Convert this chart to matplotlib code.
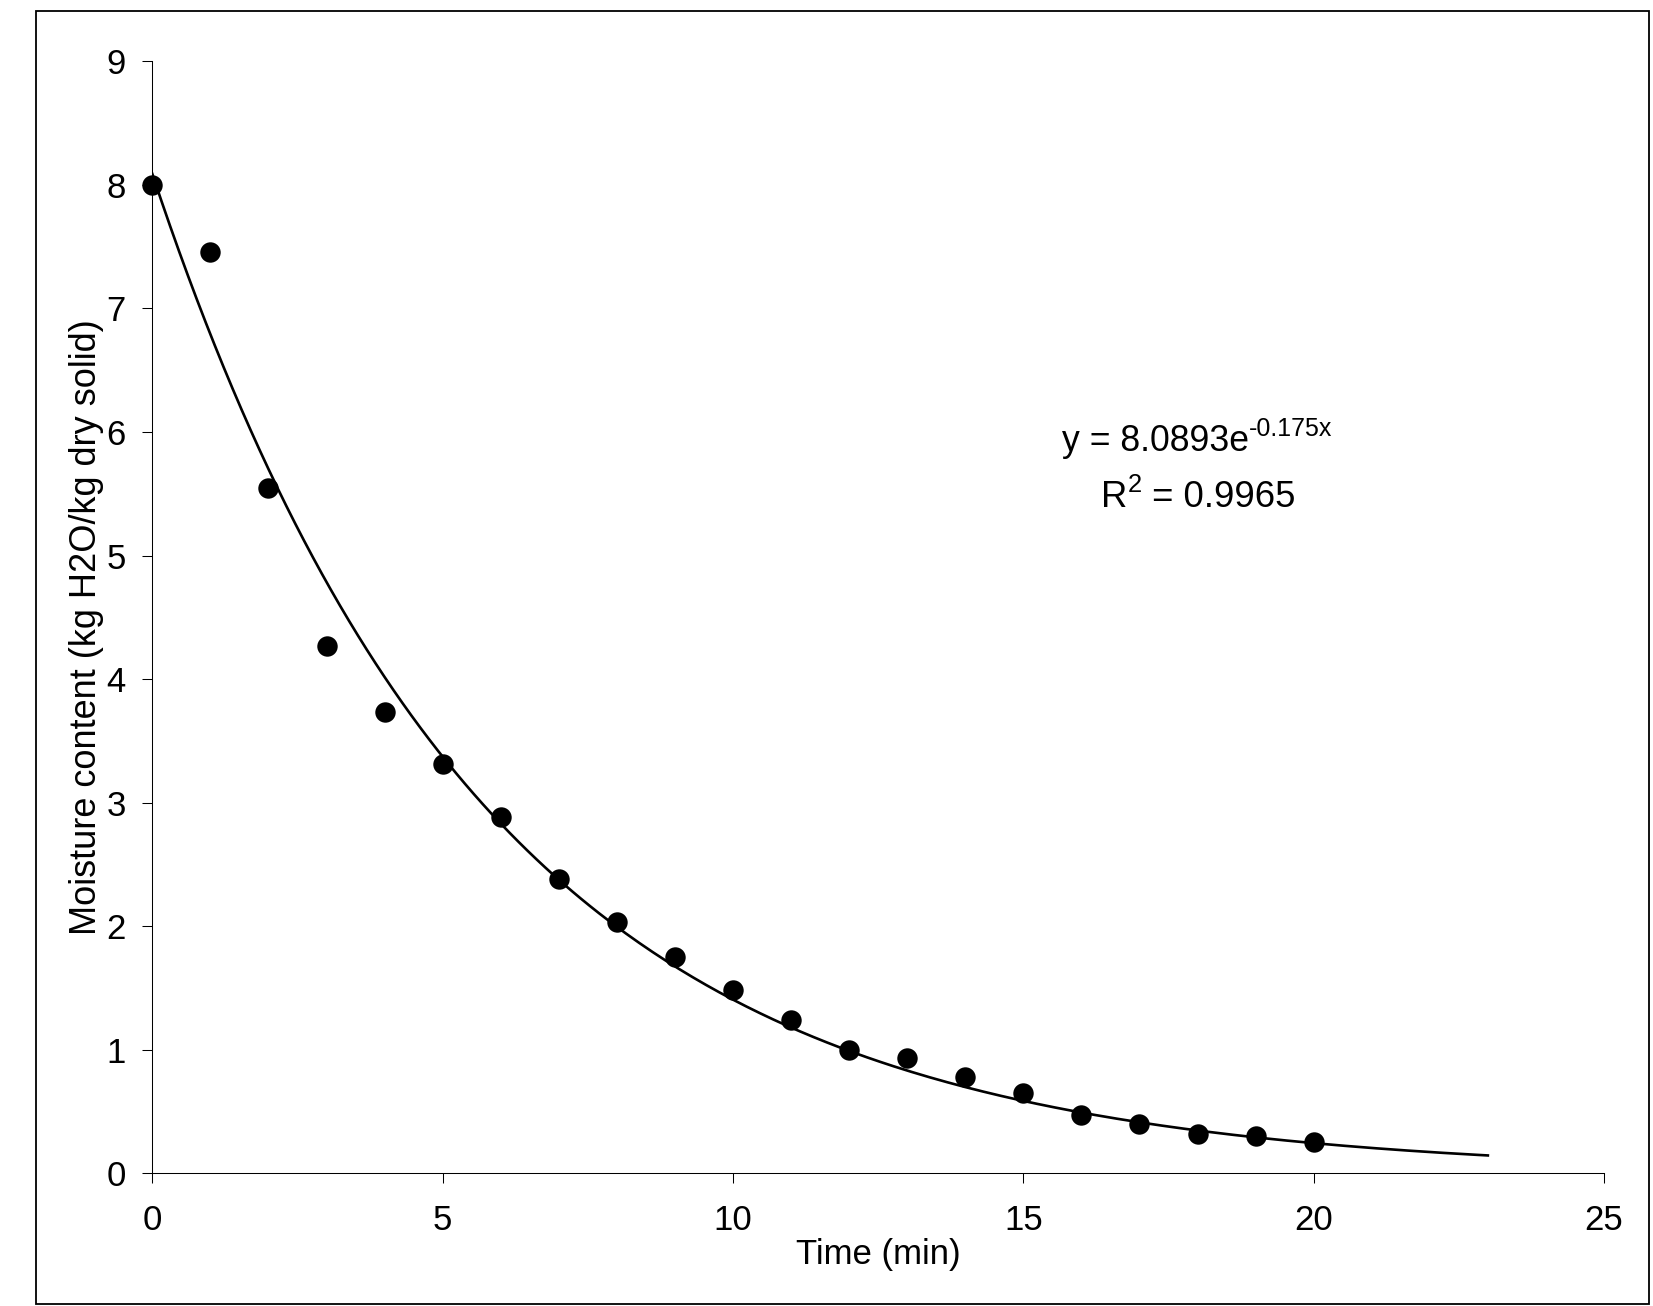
import numpy as np
import matplotlib
matplotlib.use("Agg")
import matplotlib.pyplot as plt
from matplotlib.patches import Rectangle

# ---- data ----
time_min = [0, 1, 2, 3, 4, 5, 6, 7, 8, 9, 10, 11, 12, 13, 14, 15, 16, 17, 18, 19, 20]
moisture = [8.00, 7.46, 5.55, 4.27, 3.73, 3.31, 2.88, 2.38, 2.03, 1.75, 1.48,
            1.24, 1.00, 0.93, 0.78, 0.65, 0.47, 0.40, 0.32, 0.30, 0.25]
fit_a = 8.0893
fit_b = -0.175
fit_x_end = 23
x_ticks = [0, 5, 10, 15, 20, 25]
y_ticks = [0, 1, 2, 3, 4, 5, 6, 7, 8, 9]
x_label = "Time (min)"
y_label = "Moisture content (kg H2O/kg dry solid)"
eq_main, eq_sup = "y = 8.0893e", "-0.175x"
r2_main, r2_sup, r2_rest = "R", "2", " = 0.9965"

plt.rcParams['font.family'] = ['Liberation Sans', 'DejaVu Sans']

W, H = 1653, 1306
fig = plt.figure(figsize=(W / 100, H / 100), dpi=100)
fig.patch.set_facecolor('white')

# outer chart frame
fig.patches.append(Rectangle((36 / W, 1 - 1304 / H), (1649 - 36) / W, (1304 - 11) / H,
                             transform=fig.transFigure, fill=False,
                             edgecolor='black', linewidth=1.3))

ax = fig.add_axes([152.3 / W, 1 - 1173.3 / H, (1604 - 152.3) / W, (1173.3 - 61.3) / H])
ax.set_facecolor('white')

fx = np.linspace(0, fit_x_end, 300)
ax.plot(fx, fit_a * np.exp(fit_b * fx), color='black', linewidth=1.9, zorder=2)
ax.plot(time_min, moisture, linestyle='none', marker='o', markersize=14.7,
        markeredgewidth=0, color='black', zorder=3, clip_on=False)

ax.set_xlim(0, 25)
ax.set_ylim(0, 9)
ax.set_xticks(x_ticks)
ax.set_yticks(y_ticks)
for s in ['top', 'right']:
    ax.spines[s].set_visible(False)
for s in ['left', 'bottom']:
    ax.spines[s].set_linewidth(0.75)
ax.tick_params(axis='both', direction='out', length=7.2, width=0.75, labelsize=25)
ax.tick_params(axis='x', pad=15)
ax.tick_params(axis='y', pad=12)

ax.set_xlabel(x_label, fontsize=25)
ax.xaxis.set_label_coords(0.5, -(1238 - 1173.3) / 1111.7)
ax.set_ylabel(y_label, fontsize=26)
ax.yaxis.set_label_coords(-(152.3 - 104) / 1451.7, (1173.3 - 627) / 1112)

# equation annotation (pixel-placed pieces, centred as a group)
renderer = fig.canvas.get_renderer()


def px(x, y):
    return x / W, 1 - y / H


def place_group(pieces, cx, base_y):
    """pieces: list of (text, fontsize, raise_px)"""
    objs = []
    widths = []
    for txt, fs, rz in pieces:
        t = fig.text(0, 0, txt, fontsize=fs, ha='left', va='baseline')
        objs.append((t, rz))
        widths.append(t.get_window_extent(renderer).width)
    x = cx - sum(widths) / 2
    for (t, rz), w in zip(objs, widths):
        t.set_position(px(x, base_y - rz))
        x += w


place_group([(eq_main, 25.7, 0), (eq_sup, 18, 15)], 1197, 451)
place_group([(r2_main, 26.3, 0), (r2_sup, 18.4, 15), (r2_rest, 26.3, 0)], 1198, 507)

fig.savefig('out.png', dpi=100, facecolor='white')
